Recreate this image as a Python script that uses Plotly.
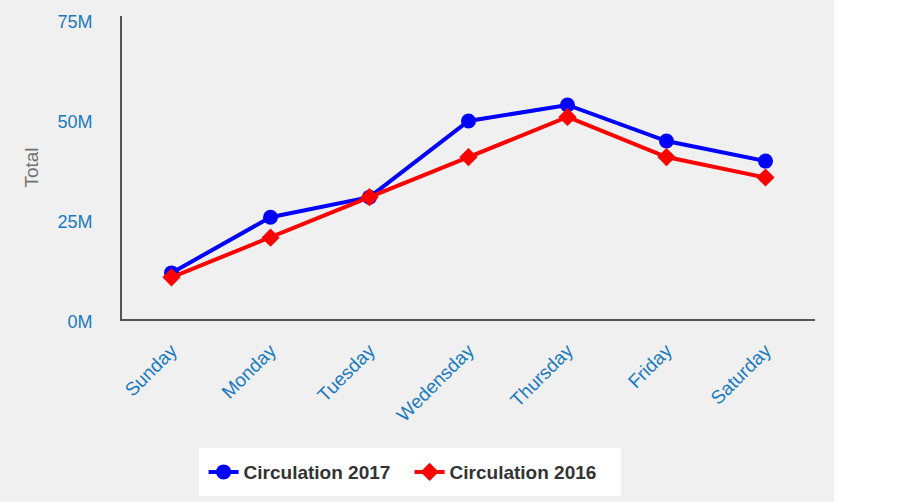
import plotly.graph_objects as go

days = ["Sunday", "Monday", "Tuesday", "Wedensday", "Thursday", "Friday", "Saturday"]
circ_2017 = [11.5e6, 25.4e6, 30.4e6, 49.4e6, 53.4e6, 44.4e6, 39.4e6]
circ_2016 = [10.4e6, 20.3e6, 30.4e6, 40.4e6, 50.4e6, 40.4e6, 35.3e6]
y_tickvals = [0, 25e6, 50e6, 75e6]
y_ticktext = ["0M", "25M", "50M", "75M"]

fig = go.Figure()
fig.add_trace(go.Scatter(
    x=days, y=circ_2017, name="Circulation 2017", mode="lines+markers",
    line=dict(color="#0000ff", width=4),
    marker=dict(symbol="circle", size=15, color="#0000ff"),
))
fig.add_trace(go.Scatter(
    x=days, y=circ_2016, name="Circulation 2016", mode="lines+markers",
    line=dict(color="#ff0000", width=4),
    marker=dict(symbol="diamond", size=14, color="#ff0000"),
))

tick_color = "#1b7ac0"
fig.update_layout(
    width=834, height=502,
    margin=dict(l=122, r=19, t=16, b=183, autoexpand=False),
    paper_bgcolor="#f0f0f0", plot_bgcolor="#f0f0f0",
    font=dict(family="Arial, Liberation Sans, sans-serif", size=18),
    showlegend=True,
    legend=dict(
        orientation="h", x=0.415, xanchor="center", y=-0.426, yanchor="top",
        bgcolor="#ffffff", bordercolor="#ffffff", borderwidth=5,
        font=dict(size=19, color="#333333", weight="bold"),
        itemwidth=30, entrywidth=161, entrywidthmode="pixels",
    ),
    xaxis=dict(
        showline=True, linecolor="#555555", linewidth=2, showgrid=False,
        zeroline=False, tickangle=-45, tickfont=dict(color=tick_color, size=19),
        ticks="", ticklabelstandoff=11, range=[-0.5, 6.5], automargin=False,
    ),
    yaxis=dict(
        showline=True, linecolor="#555555", linewidth=2, showgrid=False,
        zeroline=False, range=[0, 75.6e6], tickvals=y_tickvals, ticktext=y_ticktext,
        tickfont=dict(color=tick_color, size=18), ticks="", ticklabelstandoff=24,
        ticklabelshift=3,
        title=dict(text="Total", font=dict(color="#707070", size=19), standoff=14),
        automargin=False,
    ),
)

fig.write_html("out.html")
